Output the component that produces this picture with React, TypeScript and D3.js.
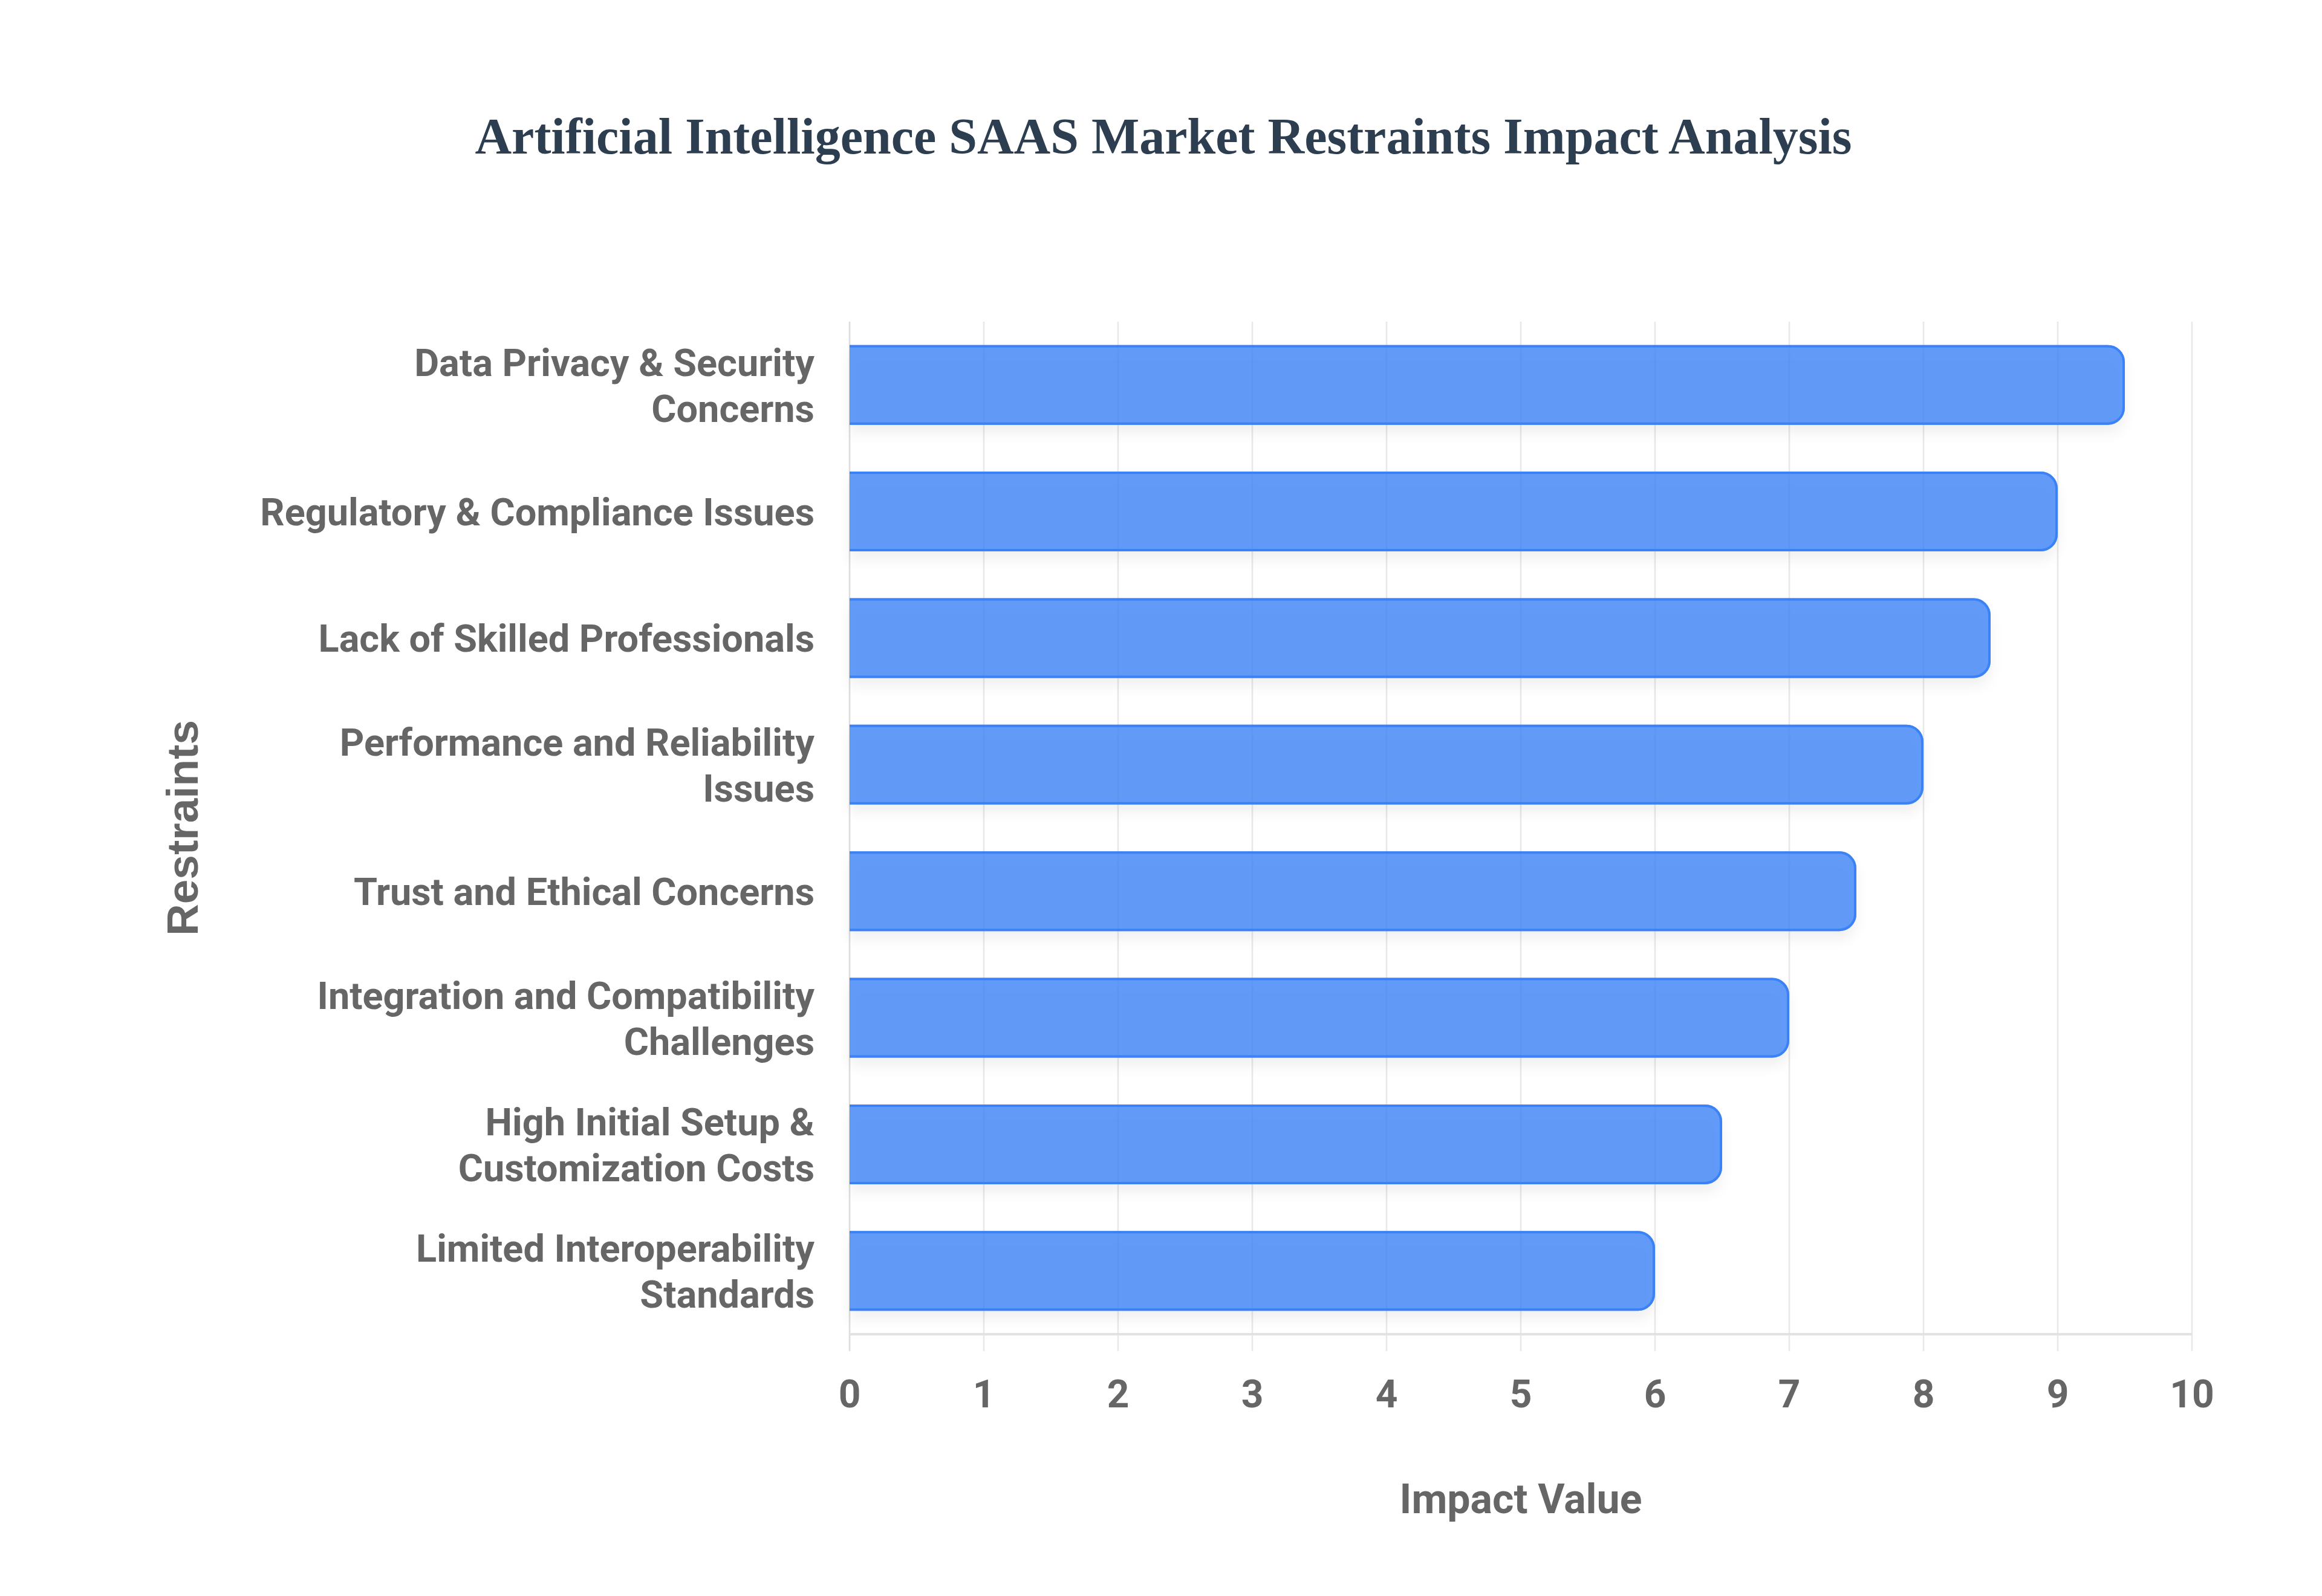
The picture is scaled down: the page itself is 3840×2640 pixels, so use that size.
import * as d3 from 'd3';

const W = 3840;
const H = 2640;

// restraint names, split into the lines shown on the axis
const restraints = [
  ['Data Privacy & Security', 'Concerns'],
  ['Regulatory & Compliance Issues'],
  ['Lack of Skilled Professionals'],
  ['Performance and Reliability', 'Issues'],
  ['Trust and Ethical Concerns'],
  ['Integration and Compatibility', 'Challenges'],
  ['High Initial Setup &', 'Customization Costs'],
  ['Limited Interoperability', 'Standards'],
];
const impact = [9.5, 9, 8.5, 8, 7.5, 7, 6.5, 6];
const xDomain = [0, 10];

const sans = 'Roboto, "Liberation Sans", Arial, sans-serif';

export default function App() {
  const left = 1405;
  const right = 3625;
  const top = 532;
  const bottom = 2207;

  const names = restraints.map((r) => r.join(' '));
  const x = d3.scaleLinear().domain(xDomain).range([left, right]);
  const y = d3.scaleBand().domain(names).range([top, bottom]).paddingInner(0.37).paddingOuter(0.185);
  const bw = y.bandwidth();
  const ticks = x.ticks(10);

  const barFill = (v: number, y0: number) => {
    const x0 = x(0);
    const x1 = x(v);
    const r = 28;
    const p = d3.path();
    p.moveTo(x0, y0);
    p.lineTo(x1 - r, y0);
    p.arcTo(x1, y0, x1, y0 + r, r);
    p.lineTo(x1, y0 + bw - r);
    p.arcTo(x1, y0 + bw, x1 - r, y0 + bw, r);
    p.lineTo(x0, y0 + bw);
    p.closePath();
    return p.toString();
  };

  // border drawn inside the bar, skipping the base edge
  const barEdge = (v: number, y0: number, sw: number) => {
    const x0 = x(0);
    const x1 = x(v) - sw / 2;
    const ya = y0 + sw / 2;
    const yb = y0 + bw - sw / 2;
    const r = 28 - sw / 2;
    const p = d3.path();
    p.moveTo(x0, ya);
    p.lineTo(x1 - r, ya);
    p.arcTo(x1, ya, x1, ya + r, r);
    p.lineTo(x1, yb - r);
    p.arcTo(x1, yb, x1 - r, yb, r);
    p.lineTo(x0, yb);
    return p.toString();
  };

  return (
    <svg width={W} height={H} style={{ position: 'absolute', left: 0, top: 0, background: '#fff' }}>
      <defs>
        <filter id="shadow" x="-5%" y="-30%" width="110%" height="160%">
          <feDropShadow dx="0" dy="14" stdDeviation="10" floodColor="#000" floodOpacity="0.07" />
        </filter>
      </defs>
      <rect width={W} height={H} fill="#fff" />

      <text
        x={1924}
        y={254}
        textAnchor="middle"
        fontFamily='"Liberation Serif", "Times New Roman", serif'
        fontWeight="bold"
        fontSize={84}
        fill="#2c3e50"
      >
        Artificial Intelligence SAAS Market Restraints Impact Analysis
      </text>

      {/* grid */}
      <g>
        {ticks.map((t) => (
          <line key={t} x1={x(t)} x2={x(t)} y1={top} y2={bottom + 28} stroke={t === 0 ? '#dcdcdc' : '#e8e8e8'} strokeWidth={2.5} />
        ))}
        <line x1={left} x2={right} y1={bottom} y2={bottom} stroke="#e2e2e2" strokeWidth={4} />
      </g>

      {/* bars */}
      <g>
        {impact.map((v, i) => {
          const y0 = y(names[i]) as number;
          return (
            <g key={names[i]}>
              <path d={barFill(v, y0)} fill="rgba(59,130,246,0.8)" filter="url(#shadow)" />
              <path d={barEdge(v, y0, 4)} fill="none" stroke="#3b82f6" strokeWidth={4} />
            </g>
          );
        })}
      </g>

      {/* category labels */}
      <g fontFamily={sans} fontWeight="bold" fontSize={63} fill="#666" textAnchor="end">
        {restraints.map((lines, i) => {
          const cy = (y(names[i]) as number) + bw / 2;
          const lh = 76;
          return (
            <text key={names[i]} x={1347}>
              {lines.map((ln, j) => (
                <tspan key={j} x={1347} y={cy + (j - (lines.length - 1) / 2) * lh + 23}>
                  {ln}
                </tspan>
              ))}
            </text>
          );
        })}
      </g>

      {/* x ticks */}
      <g fontFamily={sans} fontWeight="bold" fontSize={64} fill="#666" textAnchor="middle">
        {ticks.map((t) => (
          <text key={t} x={x(t)} y={2328}>
            {t}
          </text>
        ))}
      </g>

      <text x={(left + right) / 2} y={2503} textAnchor="middle" fontFamily={sans} fontWeight="bold" fontSize={68} fill="#666">
        Impact Value
      </text>

      <text
        transform={`translate(327, ${(top + bottom) / 2}) rotate(-90)`}
        textAnchor="middle"
        fontFamily='"Liberation Sans", Arial, sans-serif'
        fontWeight="bold"
        fontSize={73}
        fill="#666"
      >
        Restraints
      </text>
    </svg>
  );
}
